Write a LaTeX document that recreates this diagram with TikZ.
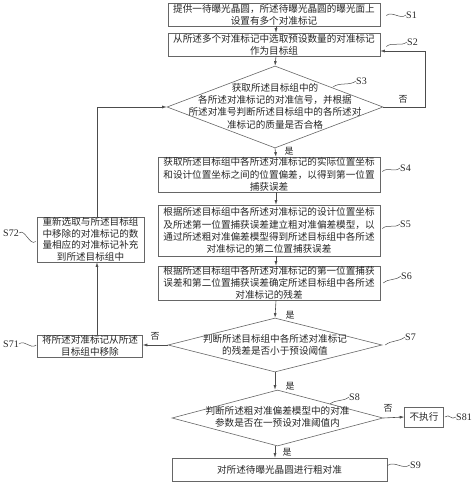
\documentclass[tikz,border=0pt]{standalone}
\usepackage{fontspec}
\setmainfont{Liberation Serif}
\newfontfamily\cjk{Noto Sans CJK SC}
\usetikzlibrary{shapes.geometric,arrows.meta}
\begin{document}
\begin{tikzpicture}[x=1pt,y=-1pt,
  line/.style={draw=black!70, line width=0.6pt},
  arr/.style={line, -{Latex[length=4.5pt,width=3pt]}},
  box/.style={draw=black!60, line width=0.6pt, inner sep=0pt, align=center, font=\cjk\fontsize{9.6}{12.3}\selectfont, text=black!85},
  dia/.style={diamond, draw=black!60, line width=0.6pt, inner sep=0pt},
  txt/.style={align=center, font=\cjk\fontsize{9.6}{12.3}\selectfont, text=black!85, inner sep=0pt},
  yn/.style={font=\cjk\fontsize{9}{10}\selectfont, text=black!85, inner sep=0pt},
  lab/.style={font=\fontsize{10}{12}\selectfont, inner sep=0pt, text=black!85},
  sq/.style={draw=black!70, line width=0.5pt}
]
\useasboundingbox (0,0) rectangle (474,484);
\coordinate (cx) at (276,0);
\coordinate (lx) at (97,0);
\coordinate (rx) at (425,0);

% boxes
\node[box, minimum width=212, minimum height=23] (s1) at (274,14.5) {提供一待曝光晶圆，所述待曝光晶圆的曝光面上\\设置有多个对准标记};
\node[box, minimum width=212, minimum height=23] (s2) at (274,44.5) {从所述多个对准标记中选取预设数量的对准标记\\作为目标组};
\node[dia, minimum width=216, minimum height=82] (s3) at (275,107) {};
\node[txt] (s3t) at (275,106) {获取所述目标组中的\\各所述对准标记的对准信号，并根据\\所述对准号判断所述目标组中的各所述对\\准标记的质量是否合格};
\node[box, minimum width=222, minimum height=35] (s4) at (269,174.5) {获取所述目标组中各所述对准标记的实际位置坐标\\和设计位置坐标之间的位置偏差，以得到第一位置\\捕获误差};
\node[box, minimum width=222, minimum height=51] (s5) at (269,230.5) {根据所述目标组中各所述对准标记的设计位置坐标\\及所述第一位置捕获误差建立粗对准偏差模型，以\\通过所述粗对准偏差模型得到所述目标组中各所述\\对准标记的第二位置捕获误差};
\node[box, minimum width=222, minimum height=34] (s6) at (269,283) {根据所述目标组中各所述对准标记的第一位置捕获\\误差和第二位置捕获误差确定所述目标组中各所述\\对准标记的残差};
\node[dia, minimum width=214, minimum height=54] (s7) at (275,345) {};
\node[txt] (s7t) at (275,345) {判断所述目标组中各所述对准标记\\的残差是否小于预设阈值};
\node[box, minimum width=105, minimum height=22] (s71) at (90,346) {将所述对准标记从所述\\目标组中移除};
\node[box, minimum width=107, minimum height=45, font=\cjk\fontsize{9.6}{11.6}\selectfont] (s72) at (90.5,239.5) {重新选取与所述目标组\\中移除的对准标记的数\\量相应的对准标记补充\\到所述目标组中};
\node[dia, minimum width=211, minimum height=56] (s8) at (277.5,418) {};
\node[txt] (s8t) at (277.5,417) {判断所述粗对准偏差模型中的对准\\参数是否在一预设对准阈值内};
\node[box, minimum width=39, minimum height=20] (s81) at (424,417) {不执行};
\node[box, minimum width=215, minimum height=23] (s9) at (279.5,469.5) {对所述待曝光晶圆进行粗对准};

% connectors
\draw[arr] (s1.south -| cx) -- (s2.north -| cx);
\draw[arr] (s2.south -| cx) -- (s3.north);
\draw[arr] (s3.south) -- (s4.north -| cx);
\draw[arr] (s4.south -| cx) -- (s5.north -| cx);
\draw[arr] (s5.south -| cx) -- (s6.north -| cx);
\draw[arr] (s6.south -| cx) -- (s7.north);
\draw[arr] (s7.south) -- (s8.north -| s7.south);
\draw[arr] (s8.south -| s7.south) -- (s9.north -| s7.south);
\draw[arr] (s8.east) -- (s81.west);
\draw[arr] (s7.west) -- (s71.east |- s7.west);
\draw[arr] (s71.north -| lx) -- (s72.south -| lx);
\draw[arr] (s72.north -| lx) -- (lx |- s3.west) -- (s3.west);
\coordinate (s2in) at (s2.east |- 0,51);
\draw[arr] (s3.east) -- (rx |- s3.east) -- (rx |- s2in) -- (s2in);

% yes / no
\node[yn] (y1) at (289,151) {是};
\node[yn] (n1) at (403,99) {否};
\node[yn] (y2) at (290,315) {是};
\node[yn] (n2) at (155,336) {否};
\node[yn] (y3) at (290,386) {是};
\node[yn] (n3) at (388,408) {否};
\node[yn] (y4) at (287,452) {是};

% step labels
\node[lab, anchor=west] (L1) at (406,15) {S1};
\node[lab, anchor=west] (L2) at (407,42) {S2};
\node[lab, anchor=west] (L3) at (356,81) {S3};
\node[lab, anchor=west] (L4) at (400,168) {S4};
\node[lab, anchor=west] (L5) at (400,224) {S5};
\node[lab, anchor=west] (L6) at (401,276) {S6};
\node[lab, anchor=west] (L7) at (405,337) {S7};
\node[lab, anchor=west] (L71) at (3,344) {S71};
\node[lab, anchor=west] (L72) at (3,233) {S72};
\node[lab, anchor=west] (L8) at (349,397) {S8};
\node[lab, anchor=west] (L81) at (456,417) {S81};
\node[lab, anchor=west] (L9) at (410,465) {S9};

\draw[sq] ([xshift=6pt,yshift=-1pt]s1.east) .. controls +(6,-5) and +(-6,5) .. (L1.west);
\draw[sq] ([xshift=6pt,yshift=-2pt]s2.east) .. controls +(6,-5) and +(-6,5) .. (L2.west);
\draw[sq] (333,87) .. controls +(6,-5) and +(-6,5) .. (L3.west);
\draw[sq] ([xshift=2pt,yshift=3pt]s4.east) .. controls +(6,-5) and +(-6,5) .. (L4.west);
\draw[sq] ([xshift=2pt,yshift=2pt]s5.east) .. controls +(6,-5) and +(-6,5) .. (L5.west);
\draw[sq] ([xshift=3pt]s6.east) .. controls +(6,-5) and +(-6,5) .. (L6.west);
\draw[sq] ([xshift=3pt]s7.east) .. controls +(6,-5) and +(-6,5) .. (L7.west);
\draw[sq] (L71.east) .. controls +(6,-5) and +(-6,5) .. ([xshift=-1pt,yshift=1pt]s71.west);
\draw[sq] (L72.east) .. controls +(6,-5) and +(-6,5) .. ([xshift=-1pt,yshift=-2pt]s72.west);
\draw[sq] (330,404) .. controls +(6,-5) and +(-6,5) .. (L8.west);
\draw[sq] ([xshift=1pt]s81.east) .. controls +(5,-4) and +(-5,4) .. (L81.west);
\draw[sq] ([yshift=4pt]s9.east) .. controls +(8,-5) and +(-8,5) .. (L9.west);
\end{tikzpicture}
\end{document}
